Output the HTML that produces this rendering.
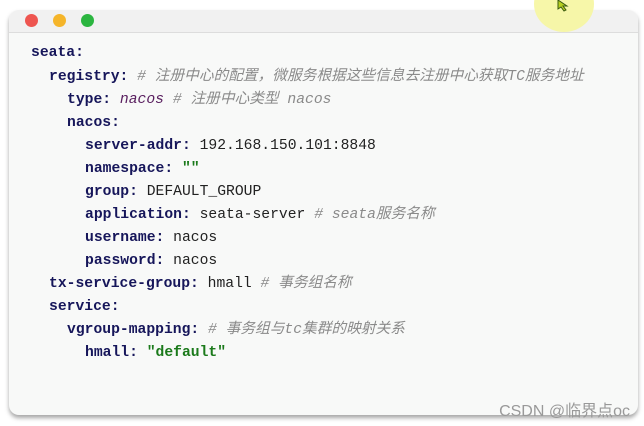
<!DOCTYPE html>
<html><head><meta charset="utf-8"><style>
html,body{margin:0;padding:0;background:#fff;width:644px;height:426px;overflow:hidden;position:relative}
.card{position:absolute;left:9px;top:10px;width:629px;height:405px;background:#f8f9f8;border-radius:10px;box-shadow:0 3px 4px rgba(0,0,0,0.35);overflow:hidden}
.hdr{position:absolute;left:0;top:0;width:100%;height:22px;background:#f1f1f1;border-bottom:1px solid #ddd}
.dot{position:absolute;top:4px;width:13px;height:13px;border-radius:50%}
.l{position:absolute;white-space:pre;font-family:"Liberation Mono",monospace;font-size:14.7px;line-height:20px;color:#222}
.k{color:#16165a;font-weight:bold}
.c{color:#8a8a8a;font-style:italic;font-family:"Liberation Mono","Noto Sans CJK SC",monospace}
.s{color:#1b7a1b;font-weight:bold}
.p{color:#5a2060;font-style:italic}
.hl{position:absolute;left:534px;top:-24px;width:60px;height:56px;border-radius:50%;background:#f6f6a0;opacity:.9}
.wm{position:absolute;right:14px;top:397px;font-family:"Liberation Sans","Noto Sans CJK SC",sans-serif;font-size:16px;color:#999}
</style></head><body>
<div class="card">
<div class="hdr"></div>
<div class="dot" style="left:16px;background:#ee5550"></div>
<div class="dot" style="left:44px;background:#f5b52a"></div>
<div class="dot" style="left:72px;background:#2bb540"></div>
</div>
<div class="hl"></div>
<svg style="position:absolute;left:557px;top:0" width="12" height="12"><path d="M1 0 L1 9 L4 7 L7 11 L9 10 L6 6 L10 6 Z" fill="#b8d020" stroke="#3a5a10" stroke-width="1"/></svg>
<div class="l" style="left:31px;top:43px"><span class="k">seata:</span></div>
<div class="l" style="left:49px;top:67px"><span class="k">registry:</span> <span class="c"># 注册中心的配置，微服务根据这些信息去注册中心获取TC服务地址</span></div>
<div class="l" style="left:67px;top:90px"><span class="k">type:</span> <span class="p">nacos</span> <span class="c"># 注册中心类型 nacos</span></div>
<div class="l" style="left:67px;top:113px"><span class="k">nacos:</span></div>
<div class="l" style="left:85px;top:136px"><span class="k">server-addr:</span> 192.168.150.101:8848</div>
<div class="l" style="left:85px;top:159px"><span class="k">namespace:</span> <span class="s">""</span></div>
<div class="l" style="left:85px;top:182px"><span class="k">group:</span> DEFAULT_GROUP</div>
<div class="l" style="left:85px;top:205px"><span class="k">application:</span> seata-server <span class="c"># seata服务名称</span></div>
<div class="l" style="left:85px;top:228px"><span class="k">username:</span> nacos</div>
<div class="l" style="left:85px;top:251px"><span class="k">password:</span> nacos</div>
<div class="l" style="left:49px;top:274px"><span class="k">tx-service-group:</span> hmall <span class="c"># 事务组名称</span></div>
<div class="l" style="left:49px;top:297px"><span class="k">service:</span></div>
<div class="l" style="left:67px;top:320px"><span class="k">vgroup-mapping:</span> <span class="c"># 事务组与tc集群的映射关系</span></div>
<div class="l" style="left:85px;top:343px"><span class="k">hmall:</span> <span class="s">"default"</span></div>
<div class="wm">CSDN @临界点oc</div>
</body></html>
